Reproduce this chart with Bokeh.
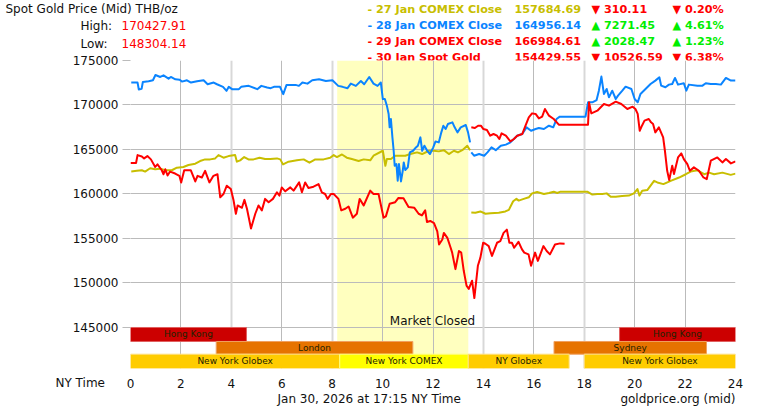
from bokeh.plotting import figure
from bokeh.layouts import column
from bokeh.models import Label, FixedTicker, Range1d, Grid
from bokeh.core.properties import value
from bokeh.embed import file_html
from bokeh.resources import INLINE

x_ticks = list(range(0, 25, 2))
x_ticks_thin = [2, 6, 10, 12, 16, 20, 22]
x_ticks_soft = [0, 4, 8, 14, 18, 24]
y_ticks = [145000, 150000, 155000, 160000, 165000, 170000, 175000]

h27 = [.03,.25,.45,.58,.78,.98,1.18,1.38,1.64,1.84,2.1,2.3,2.57,2.76,2.96,3.16,3.36,3.49,3.69,3.89,4.15,4.22,4.35,4.51,4.68,4.88,5.12,5.34,5.54,5.81,5.94,6.05,6.27,6.6,6.87,7.1,7.33,7.66,7.92,8.06,8.19,8.39,8.58,8.78,9.05,9.25,9.51,9.64,10.01,10.11,10.17,10.33,10.5,10.9,11.1,11.37,11.57,11.84,12.03,12.23,12.43,12.63,12.83,12.99,13.16,13.36,13.47,
       None,
       13.52,13.68,13.88,14.08,14.28,14.61,14.87,15.01,15.18,15.31,15.4,15.6,15.8,15.93,16.13,16.4,16.6,16.79,16.93,17.06,18.12,18.32,18.52,18.72,18.89,19.05,19.25,19.5,19.77,19.97,20.11,20.19,20.3,20.5,20.77,20.9,21.14,21.43,21.76,22.03,22.22,22.49,22.76,22.95,23.15,23.48,23.81,24.0]
p27 = [162520,162600,162670,162520,162890,162780,162850,162670,162670,162960,163040,163260,163410,163700,163890,163890,164000,164370,164080,164260,164370,163630,163780,164150,163890,163890,164080,163930,163930,164000,163890,163330,163630,163780,163890,163520,163890,163890,164080,164370,164150,164440,164080,163930,163700,163890,163780,164300,164860,163175,163925,163925,164300,164300,164490,164675,164490,164860,164860,164790,164925,164490,164860,164675,164925,165425,164925,
       None,
       157930,157890,158040,157780,157850,157890,158040,158220,159190,159450,159260,159450,159630,160070,160220,160000,160110,160260,160110,160260,160260,159930,160000,160000,160070,159700,159700,159780,159820,160070,160560,159820,160370,160440,161480,161300,161110,161480,161850,162220,162520,162660,162220,162400,162220,162400,162150,162290]

h28 = [.03,.28,.33,.44,.49,.72,.89,.99,1.18,1.31,1.51,1.6,1.78,1.95,2.04,2.24,2.4,2.64,2.9,3.06,3.3,3.43,3.67,3.81,3.9,4.03,4.3,4.39,4.69,5.03,5.19,5.42,5.56,5.69,5.93,6.06,6.19,6.55,6.68,6.82,7.02,7.21,7.48,7.75,8.01,8.24,8.41,8.61,8.74,8.94,9.14,9.27,9.47,9.64,9.8,9.93,10.01,
       10.09,10.17,10.24,10.28,10.33,10.39,10.44,10.48,10.55,10.6,10.65,10.73,10.8,10.84,10.9,11.0,11.08,11.21,11.3,11.4,11.5,11.57,11.66,11.77,11.88,12.01,12.1,12.23,12.33,12.41,12.5,12.59,12.77,12.86,12.97,13.1,13.3,13.39,13.47,
       None,
       13.52,13.63,13.83,14.03,14.16,14.32,14.49,14.69,14.89,15.07,15.34,15.54,15.71,15.89,16.07,16.2,16.4,16.6,16.77,16.9,17.03,18.05,18.15,18.32,18.49,18.58,18.68,18.78,18.89,18.98,19.11,19.25,19.34,19.51,19.64,19.87,20.0,20.12,20.23,20.43,20.63,20.82,20.98,21.05,21.22,21.36,21.49,21.6,21.72,21.95,22.05,22.15,22.49,22.69,22.82,23.02,23.22,23.42,23.62,23.82,24.0]
p28 = [172520,172520,171740,171810,172590,172660,172780,173370,173150,173330,172960,173150,172890,172850,172630,172780,172520,172660,172780,172330,172520,172330,172040,171590,172040,171780,171780,172040,172150,171780,172150,171960,171890,172040,172040,171220,172260,172260,172150,172520,172400,172780,172890,172700,172780,172150,172040,171890,172400,172150,172700,172330,173150,172400,172150,172520,170670,
       170680,169925,168990,167490,168425,166360,164860,163175,163360,161490,163360,161410,162610,163550,162690,162990,164675,164860,165160,165425,166360,164860,165425,164860,164490,165240,165910,165800,166925,167675,167300,167860,168050,167490,166925,167490,167750,166925,165800,
       None,
       164675,164300,164490,164300,164675,165240,164925,165425,165550,165800,166550,166740,167490,167110,167300,167410,167300,167675,167490,168425,168690,168690,170300,170300,170560,171610,173190,171240,171800,170860,171610,170675,171050,171610,172060,171800,170675,170300,171240,171800,172360,172740,173110,172175,171990,172290,172360,173040,172290,172440,171610,172290,172175,172175,172440,172360,172360,172290,173040,172740,172740]

h29 = [13.52,13.66,13.79,13.9,14.0,14.14,14.27,14.4,14.54,14.63,14.72,14.89,15.07,15.21,15.34,15.54,15.67,15.8,15.93,16.07,16.2,16.33,16.44,16.6,16.79,16.99,18.15,18.19,18.28,18.52,18.78,18.98,19.25,19.47,19.71,19.92,20.03,20.12,20.2,20.29,20.39,20.56,20.65,20.73,20.82,20.96,21.13,21.2,21.29,21.37,21.49,21.56,21.72,21.85,21.95,22.09,22.19,22.35,22.55,22.73,22.86,23.02,23.28,23.48,23.62,23.82,24.0]
p29 = [167490,167410,167675,167675,167300,167190,166550,166740,166550,166175,166810,166550,165910,166175,166550,166740,167675,168610,169060,169000,168500,168690,169550,168800,168425,167790,167790,170300,169060,169360,170110,169925,170375,170110,169550,169810,169550,169000,167110,167675,168240,168425,168050,167860,166925,167490,166360,164860,162610,161560,163175,162240,164110,164560,163925,163360,162610,162990,162610,161860,161675,163740,164110,163550,163925,163440,163660]

h30 = [0,.22,.28,.45,.54,.67,.81,.98,1.07,1.24,1.31,1.38,1.47,1.57,1.77,1.94,2.01,2.13,2.39,2.57,2.66,2.83,2.96,3.13,3.29,3.45,3.56,3.69,3.82,3.98,4.09,4.18,4.25,4.42,4.52,4.62,4.78,4.95,5.08,5.21,5.34,5.48,5.65,5.81,5.91,6.0,6.14,6.34,6.47,6.69,6.8,6.93,7.06,7.26,7.46,7.59,7.72,7.82,7.95,8.06,8.25,8.36,8.52,8.65,8.82,8.98,9.09,9.25,9.51,9.64,9.84,10.04,10.13,10.28,10.5,10.63,10.83,11.03,11.26,11.43,11.56,11.69,11.76,11.89,12.04,12.17,12.24,12.37,12.43,12.57,12.7,12.76,12.89,13.03,13.12,13.22,13.33,13.42,13.55,13.64,13.78,13.88,13.99,14.08,14.21,14.34,14.54,14.67,14.8,14.93,15.03,15.13,15.22,15.39,15.53,15.62,15.79,15.89,16.05,16.16,16.38,16.51,16.64,16.84,17.04,17.22]
p30 = [163480,163480,164370,164220,164000,164260,163890,163040,163330,162670,162220,162780,162080,162520,162300,162040,161300,162670,162670,161410,162040,161850,162600,161300,162040,162220,159630,160000,160930,160560,159260,157780,158710,158450,159340,158340,156120,157780,158710,158160,159450,159080,159450,160190,159820,160740,160300,160740,160380,161300,160190,161300,160670,160820,161110,160190,160000,159450,160000,160000,159450,158160,158340,158600,157340,157780,159450,158710,160380,160000,160000,157340,157490,158900,159080,159560,159520,158530,158450,157780,157600,158160,156860,156970,156740,155810,154330,154890,155630,155070,153960,153410,151560,153590,153410,151370,149710,149340,150260,148304,151930,152850,154520,154410,154150,153040,154520,154700,155630,156000,154520,154520,153960,154630,153780,153410,153220,151930,153410,152480,154150,153590,153220,154330,154450,154410]

session_names = ["Hong Kong", "Hong Kong", "London", "Sydney", "New York Globex", "New York COMEX", "NY Globex", "New York Globex"]
session_start = [0, 19.4, 3.4, 16.8, 0, 8.3, 13.4, 18]
session_end = [4.6, 24, 11.2, 22.85, 8.3, 13.4, 17.4, 24]
session_top = [145000, 145000, 143430, 143430, 142000, 142000, 142000, 142000]
session_bottom = [143430, 143430, 142000, 142000, 140393, 140393, 140393, 140393]
session_color = ["#CC0000", "#CC0000", "#E67300", "#E67300", "#FFCC00", "#FFFF00", "#FFCC00", "#FFCC00"]
session_edge = ["#E06060", "#E06060", "#F0A060", "#F0A060", "#FFE080", "#FFFF80", "#FFE080", "#FFE080"]

closed_start, closed_end = 8.2, 13.4

legend_rows = [
    ("- 27 Jan COMEX Close", "157684.69", "▼ 310.11", "▼ 0.20%", "#C8BE00", "#FF0000"),
    ("- 28 Jan COMEX Close", "164956.14", "▲ 7271.45", "▲ 4.61%", "#0A84FF", "#00EE00"),
    ("- 29 Jan COMEX Close", "166984.61", "▲ 2028.47", "▲ 1.23%", "#FF0000", "#00EE00"),
    ("- 30 Jan Spot Gold", "154429.55", "▼ 10526.59", "▼ 6.38%", "#FF0000", "#FF0000"),
]

W, H = 770, 410
FL, FB = 130, 368

# backdrop: every text outside the plot frame, in page pixels
bg = figure(width=W, height=H, output_backend="svg", toolbar_location=None,
            x_range=Range1d(0, W), y_range=Range1d(H, 0), x_axis_location=None, y_axis_location=None,
            min_border=0, min_border_left=0, min_border_right=0, min_border_top=0, min_border_bottom=0)
bg.frame_align = False
bg.outline_line_color = None
bg.grid.visible = False


def lab(px, py, text, color="#111111", size="12px", align="left", style="normal"):
    bg.text([px], [py], text=[text], text_color=color, text_font=value("DejaVu Sans"), text_font_size=size,
            text_align=align, text_baseline="alphabetic", text_font_style=style)


lab(5, 8, "Spot Gold Price (Mid) THB/oz")
lab(80, 25, "High:")
lab(121, 25, "170427.91", "#FF0000")
lab(80, 43, "Low:")
lab(121, 43, "148304.14", "#FF0000")
lab(55, 382, "NY Time")
lab(277, 398, "Jan 30, 2026 at 17:15 NY Time")
lab(735, 398, "goldprice.org (mid)", align="right")
for i, (name, val, chg, pct, c, c2) in enumerate(legend_rows):
    yy = 8.5 + 16 * i
    lab(367, yy, name, c, "11.2px", style="bold")
    lab(514, yy, val, c, "11.2px", style="bold")
    lab(591, yy, chg, c2, "11.2px", style="bold")
    lab(672, yy, pct, c2, "11.2px", style="bold")

p = figure(width=W, height=H, output_backend="svg", toolbar_location=None,
           x_range=Range1d(0, 24), y_range=Range1d(140393, 175000),
           min_border_left=FL, min_border_right=W - 735, min_border_top=60, min_border_bottom=H - FB)
p.frame_align = False
p.margin = (-H, 0, 0, 0)
p.border_fill_color = None
p.outline_line_color = None
p.background_fill_color = "white"

p.xaxis.ticker = FixedTicker(ticks=x_ticks)
p.yaxis.ticker = FixedTicker(ticks=y_ticks)
p.xaxis.axis_line_color = None
p.yaxis.axis_line_color = None
p.xaxis.major_tick_line_color = None
p.yaxis.major_tick_line_color = "#BBBBBB"
p.yaxis.major_tick_out = 8
p.yaxis.major_tick_in = 0
p.xaxis.minor_tick_line_color = None
p.yaxis.minor_tick_line_color = None
p.yaxis.major_label_standoff = 4
p.xaxis.major_label_standoff = 4
p.yaxis.formatter.use_scientific = False
for ax in (p.xaxis, p.yaxis):
    ax.major_label_text_font = "DejaVu Sans"
    ax.major_label_text_font_size = "12px"
    ax.major_label_text_color = "#111111"
p.grid.grid_line_color = "#BBBBBB"
p.grid.grid_line_width = 1
p.xgrid.ticker = FixedTicker(ticks=x_ticks_thin)
p.ygrid.ticker = FixedTicker(ticks=y_ticks)
p.grid.level = "underlay"
p.add_layout(Grid(dimension=0, ticker=FixedTicker(ticks=x_ticks_soft), grid_line_color="#D8D8D8",
                  grid_line_width=2, level="underlay"))

p.quad(left=[closed_start], right=[closed_end], top=[175000], bottom=[140393],
       fill_color="#FFFFBF", line_color=None, level="image")

for hs, ps, c in [(h27, p27, "#C8BE00"), (h28, p28, "#0A84FF"), (h29, p29, "#FF0000"), (h30, p30, "#FF0000")]:
    xs = [float("nan") if v is None else v for v in hs]
    ys = [float("nan") if v is None else v for v in ps]
    p.line(xs, ys, line_color=c, line_width=2, line_join="round")

p.quad(left=session_start, right=session_end, top=session_top, bottom=session_bottom,
       fill_color=session_color, line_color=session_edge, line_width=1)
for n, a, b, t, bt in zip(session_names, session_start, session_end, session_top, session_bottom):
    p.add_layout(Label(x=(a + b) / 2, y=(t + bt) / 2, text=n, text_align="center", text_baseline="middle",
                       text_font="DejaVu Sans", text_font_size="9px", text_color="#222200"))
p.add_layout(Label(x=11.98, y=144950, text="Market Closed", text_align="center",
                   text_baseline="bottom", text_font="DejaVu Sans", text_font_size="12px", text_color="#111111"))

open("out.html", "w").write(file_html(column(bg, p, spacing=0), INLINE))
